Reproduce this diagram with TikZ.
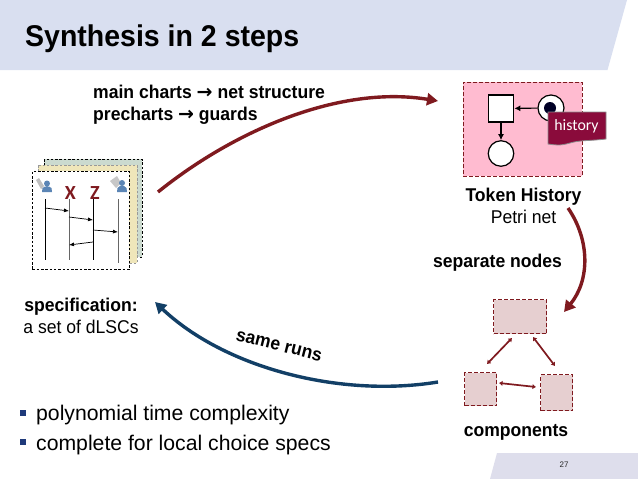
\documentclass[tikz,border=0pt]{standalone}
\usepackage{fontspec}
\setmainfont{Liberation Sans}
\newfontfamily\narrowf[FakeStretch=0.95]{Liberation Sans}
\newfontfamily\calib{Carlito}
\usetikzlibrary{arrows.meta}
\definecolor{band}{HTML}{D9DFF0}
\definecolor{foot}{HTML}{DEDEEC}
\definecolor{maroon}{HTML}{7F1A1F}
\definecolor{navy}{HTML}{123F66}
\definecolor{netpink}{HTML}{FFBBD0}
\definecolor{comp}{HTML}{E6CFD0}
\definecolor{tagred}{HTML}{8A0B3B}
\definecolor{bullet}{HTML}{1F3A7A}
\definecolor{cardgreen}{HTML}{CBDACF}
\definecolor{cardyellow}{HTML}{EFE6BA}
\definecolor{person}{HTML}{5B85B5}
\tikzset{
 lbl/.style={inner sep=0pt,font=\narrowf\fontsize{18.5}{22}\selectfont,align=center},
 blbl/.style={lbl,font=\narrowf\bfseries\fontsize{18.5}{22}\selectfont},
 bigarrow/.style={line width=3.4pt,-{Triangle[length=11pt,width=12pt]}},
 card/.style={draw=black,dashed,dash pattern=on 2.5pt off 1.8pt,line width=.8pt},
 compbox/.style={draw=maroon,fill=comp,dashed,line width=1pt,dash pattern=on 4pt off 2pt},
 life/.style={line width=.9pt},
 msg/.style={line width=.7pt,-{Latex[length=5pt,width=4pt]}},
 netline/.style={line width=1.1pt,-{Latex[length=6pt,width=6pt]}},
 link/.style={maroon,line width=1.7pt,{Latex[length=3.5pt,width=5.5pt]}-{Latex[length=3.5pt,width=5.5pt]}},
}
\newcommand{\bigarr}{{\fontspec{DejaVu Sans}\bfseries\fontsize{19}{19}\selectfont→}}
\begin{document}
\begin{tikzpicture}[x=1pt,y=-1pt]
\useasboundingbox (0,0) rectangle (638,479);
\fill[band] (0,0) -- (627,0) -- (607.5,70) -- (0,70) -- cycle;
\fill[foot] (638,453) -- (497,453) -- (490,479) -- (638,479) -- cycle;
\node[inner sep=0pt,anchor=base west,font=\narrowf\bfseries\fontsize{30}{34}\selectfont] (title) at (25,46) {Synthesis in 2 steps};
\node[inner sep=0pt,font=\fontsize{8}{9}\selectfont,text=black!85] (page) at (564,465) {27};
% top label
\node[blbl,anchor=base west] (lab1) at (93,98) {main charts \bigarr{} net structure};
\node[blbl,anchor=base west] (lab2) at (93,120) {precharts \bigarr{} guards};
% cards
\fill[cardgreen] (44,159) rectangle (142,257);
\draw[card] (44,159) rectangle (142,257);
\fill[cardyellow] (38,165) rectangle (137,263);
\draw[draw=black!40,dashed,dash pattern=on 2.5pt off 1.8pt,line width=.5pt] (38,165) rectangle (137,263);
\node[card,fill=white,minimum width=97pt,minimum height=98pt,inner sep=0pt,anchor=north west] (front) at (32,171) {};
\node[inner sep=0pt,font=\calib\bfseries\fontsize{20}{22}\selectfont,text=maroon] (x) at (70.5,193) {X};
\node[inner sep=0pt,font=\calib\bfseries\fontsize{20}{22}\selectfont,text=maroon] (z) at (95,193) {Z};
% actors
\fill[black!25] (36,180) -- (39,178) -- (44,186) -- (41,189) -- cycle;
\fill[person] (47,183.5) circle (3pt) (42,192) -- (42.5,188) -- (45,186.5) -- (49,186.5) -- (51.5,188) -- (52,192) -- cycle;
\fill[black!22] (110,181) -- (117,176) -- (121,183) -- (116,188) -- cycle;
\fill[person] (122,183) circle (3pt) (117,192) -- (117.5,188) -- (120,186) -- (124,186) -- (126.5,188) -- (127,192) -- cycle;
% lifelines
\coordinate (l1a) at (45,199); \coordinate (l1b) at (45,260);
\coordinate (l2a) at (69,199); \coordinate (l2b) at (69,260);
\coordinate (l3a) at (93,199); \coordinate (l3b) at (93,260);
\coordinate (l4a) at (118,199); \coordinate (l4b) at (118,263);
\draw[life,black] (l1a)--(l1b);
\draw[life,black!60] (l2a)--(l2b);
\draw[life,black] (l3a)--(l3b);
\draw[life,black!60] (l4a)--(l4b);
\coordinate (m1a) at (45,208); \coordinate (m1b) at (69,211);
\coordinate (m2a) at (69,217); \coordinate (m2b) at (93,220);
\coordinate (m3a) at (93,230); \coordinate (m3b) at (118,232);
\coordinate (m4a) at (93,242); \coordinate (m4b) at (69,245);
\draw[msg] (m1a)--(m1b);
\draw[msg] (m2a)--(m2b);
\draw[msg] (m3a)--(m3b);
\draw[msg] (m4a)--(m4b);
\node[blbl,anchor=base] (spec) at (81,311) {specification:};
\node[lbl,anchor=base] (dlsc) at (81,333) {a set of dLSCs};
% net
\node[draw=maroon,fill=netpink,dashed,dash pattern=on 4pt off 2pt,line width=.9pt,minimum width=119pt,minimum height=94pt,inner sep=0pt,anchor=north west] (net) at (463,82) {};
\node[draw=black,fill=white,line width=1.2pt,minimum width=25.5pt,minimum height=27pt,inner sep=0pt] (trans) at (501,108.5) {};
\node[draw=black,fill=white,circle,line width=1.2pt,minimum size=26pt,inner sep=0pt] (place1) at (551,108) {};
\node[fill=black!85!blue,circle,minimum size=12pt,inner sep=0pt] (token) at (550,108) {};
\node[draw=black,fill=white,circle,line width=1.2pt,minimum size=25.5pt,inner sep=0pt] (place2) at (501,153.5) {};
\draw[netline] (place1)--(trans);
\draw[netline] (trans)--(place2);
\filldraw[fill=tagred,draw=black!45,line width=.8pt] (548,112) -- (606,112) -- (606,139) .. controls (590,141) and (580,140) .. (570,143) .. controls (560,146) and (555,145) .. (548,144) -- cycle;
\node[inner sep=0pt,font=\calib\fontsize{15.8}{18}\selectfont,text=white] (hist) at (576.5,126) {history};
\node[blbl,anchor=base] (th) at (523.5,201) {Token History};
\node[lbl,anchor=base] (pn) at (523.5,223) {Petri net};
\node[blbl,anchor=base] (sep) at (497.5,267) {separate nodes};
% components
\node[compbox,minimum width=53pt,minimum height=34pt,inner sep=0pt,anchor=north west] (c1) at (493,299) {};
\node[compbox,minimum width=32pt,minimum height=33pt,inner sep=0pt,anchor=north west] (c2) at (464,372) {};
\node[compbox,minimum width=32pt,minimum height=36pt,inner sep=0pt,anchor=north west] (c3) at (540,374) {};
\coordinate (k1a) at (512,338); \coordinate (k1b) at (487,364);
\coordinate (k2a) at (533,337); \coordinate (k2b) at (555,366);
\coordinate (k3a) at (499,383); \coordinate (k3b) at (536,387);
\draw[link] (k1a) -- (k1b);
\draw[link] (k2a) -- (k2b);
\draw[link] (k3a) -- (k3b);
\node[blbl,anchor=base] (comps) at (516,436) {components};
% big arrows
\coordinate (ra) at (158,192); \coordinate (rb) at (438,101);
\draw[bigarrow,maroon] (ra) .. controls (235,130) and (340,85) .. (rb);
\coordinate (sa) at (568,208); \coordinate (sb) at (564,312);
\draw[bigarrow,maroon] (sa) .. controls (590,240) and (590,280) .. (sb);
\coordinate (ba) at (438,382); \coordinate (bb) at (155,302);
\draw[bigarrow,navy] (ba) .. controls (340,398) and (225,368) .. (bb);
\node[blbl,rotate=-14] (same) at (279,346) {same runs};
% bullets
\node[inner sep=0pt,anchor=base west,font=\fontsize{21.2}{25}\selectfont] (b1) at (36,420) {polynomial time complexity};
\node[inner sep=0pt,anchor=base west,font=\fontsize{21.2}{25}\selectfont] (b2) at (36,450) {complete for local choice specs};
\fill[bullet] (20,410) rectangle +(6,6);
\fill[bullet] (20,439) rectangle +(6,6);
\end{tikzpicture}
\end{document}
